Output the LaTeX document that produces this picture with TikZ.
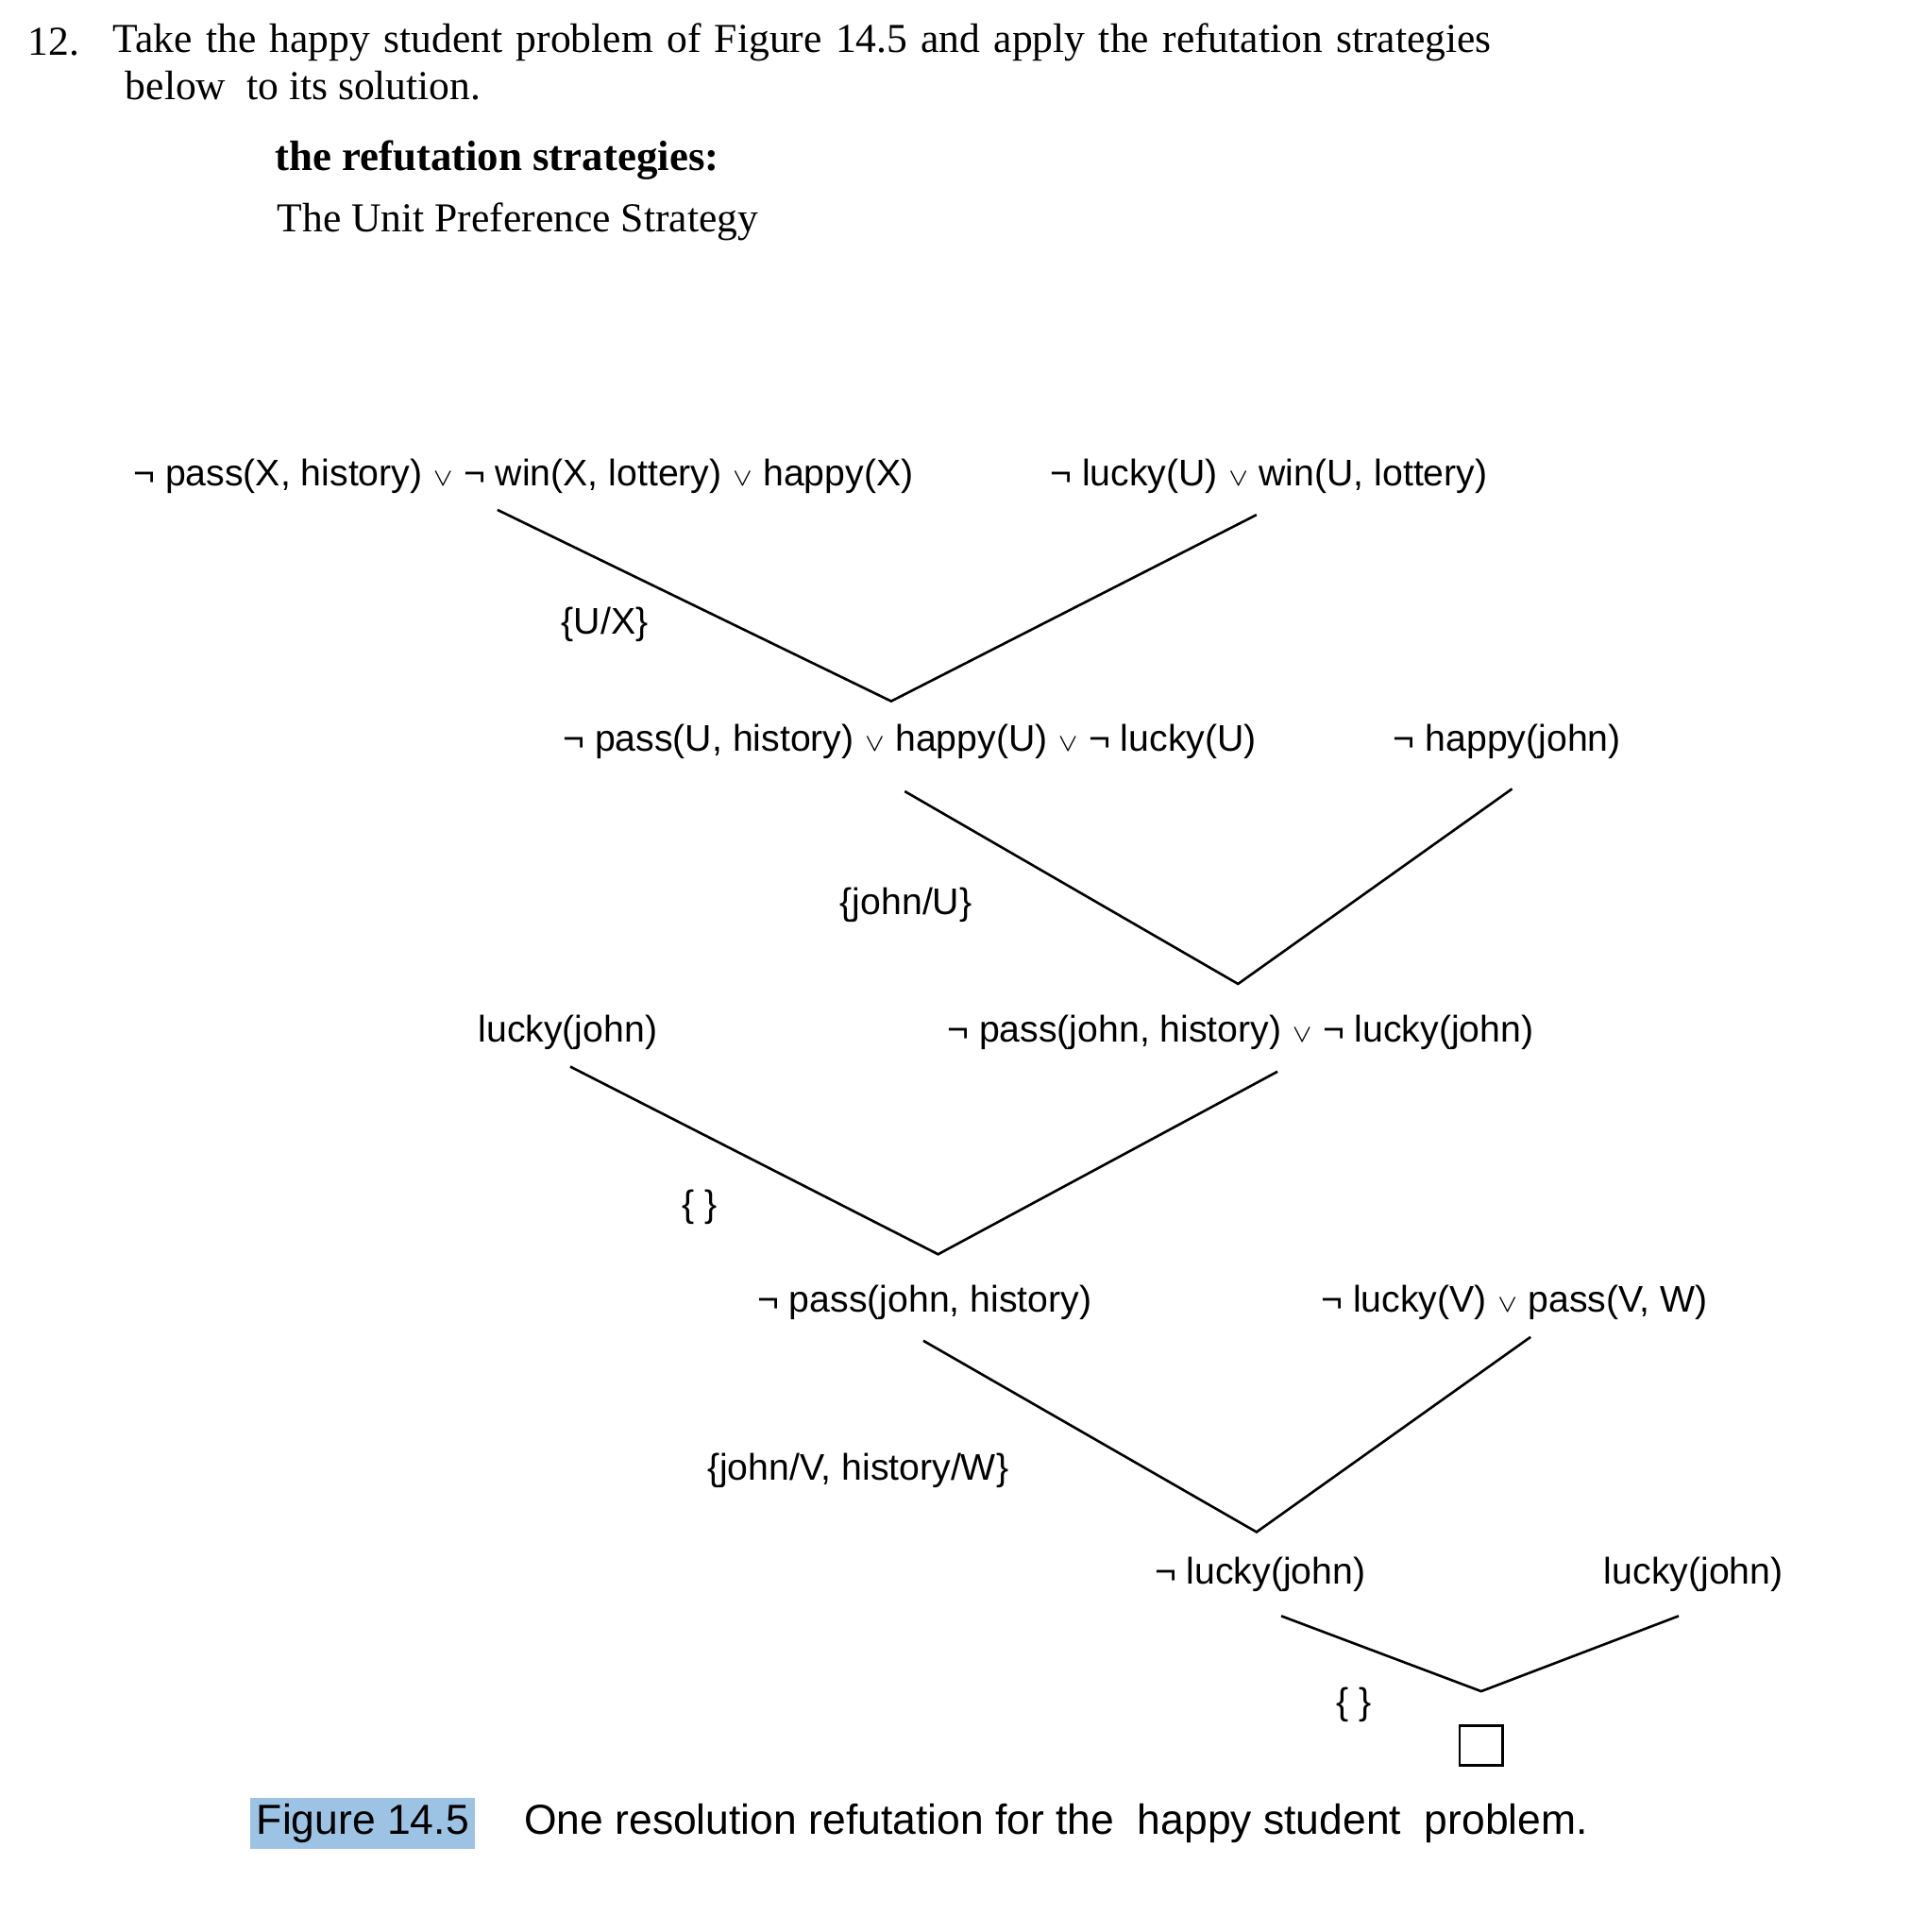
\documentclass[tikz,border=0pt]{standalone}
\usepackage{fontspec}
\setmainfont{Liberation Serif}
\setsansfont{Liberation Sans}
\usepackage{tikz}
\usetikzlibrary{calc, positioning}

\definecolor{capblue}{RGB}{157,195,228}
\newcommand{\orv}{\ensuremath{\scriptstyle\vee}}

\begin{document}
\begin{tikzpicture}[x=0.3pt, y=-0.3pt,
    clause/.style={font=\fontsize{9}{11}\selectfont\sffamily, inner sep=0pt},
    subst/.style={font=\fontsize{9}{11}\selectfont\sffamily, inner sep=0pt},
    head/.style={font=\fontsize{10}{12}\selectfont, anchor=west, inner sep=0pt},
    res/.style={line width=0.6pt}]

  \useasboundingbox (0,0) rectangle (1547,1565);

  % exercise text
  \node[head] (num) at (22,34) {12.};
  \node[head] (ask) at (91,34) {\makebox[335pt][s]{Take the happy student problem of Figure 14.5 and apply the refutation strategies}};
  \node[head] (ask2) at (101,69) {below\ \ to its solution.};
  \node[head, font=\fontsize{10.3}{12}\selectfont\bfseries] (title) at (222,130) {the refutation strategies:};
  \node[head] (strat) at (224,180) {The Unit Preference Strategy};

  % clauses
  \node[clause] (c1) at (424,386) {¬ pass(X, history) \orv\ ¬ win(X, lottery) \orv\ happy(X)};
  \node[clause] (c2) at (1028,386) {¬ lucky(U) \orv\ win(U, lottery)};
  \node[clause] (r1) at (737,601) {¬ pass(U, history) \orv\ happy(U) \orv\ ¬ lucky(U)};
  \node[clause] (c3) at (1221,601) {¬ happy(john)};
  \node[clause] (c4) at (460,836) {lucky(john)};
  \node[clause] (r2) at (1005,836) {¬ pass(john, history) \orv\ ¬ lucky(john)};
  \node[clause] (r3) at (749,1055) {¬ pass(john, history)};
  \node[clause] (c5) at (1227,1055) {¬ lucky(V) \orv\ pass(V, W)};
  \node[clause] (r4) at (1021,1275) {¬ lucky(john)};
  \node[clause] (c6) at (1372,1275) {lucky(john)};
  \node[draw, line width=0.6pt, minimum width=10.5pt, minimum height=9.6pt, inner sep=0pt] (nil) at (1200,1414) {};

  % substitutions
  \node[subst] (s1) at (490,506) {\{U/X\}};
  \node[subst] (s2) at (734,733) {\{john/U\}};
  \node[subst] (s3) at (567,978) {\{ \}};
  \node[subst] (s4) at (695,1191) {\{john/V, history/W\}};
  \node[subst] (s5) at (1097,1381) {\{ \}};

  % resolution steps
  \coordinate (j1) at (722,568);
  \coordinate (j2) at (1003,797);
  \coordinate (j3) at (760,1016);
  \coordinate (j4) at (1018,1241);
  \coordinate (j5) at (1200,1370);

  \draw[res] ($(c1)+(-21,27)$) -- (j1) -- ($(c2)+(-10,31)$);
  \draw[res] ($(r1)+(-4,40)$) -- (j2) -- ($(c3)+(4,38)$);
  \draw[res] ($(c4)+(2,28)$) -- (j3) -- ($(r2)+(30,32)$);
  \draw[res] ($(r3)+(-1,31)$) -- (j4) -- ($(c5)+(13,28)$);
  \draw[res] ($(r4)+(17,34)$) -- (j5) -- ($(c6)+(-12,34)$);

  % caption
  \node[fill=capblue, inner sep=1.5pt, font=\fontsize{10.2}{12}\selectfont\sffamily] (fig) at (294,1477) {Figure 14.5};
  \node[anchor=west, inner sep=0pt, font=\fontsize{10.2}{12}\selectfont\sffamily] (cap) at (424,1477) {One resolution refutation for the\ \ happy student\ \ problem.};
\end{tikzpicture}
\end{document}
